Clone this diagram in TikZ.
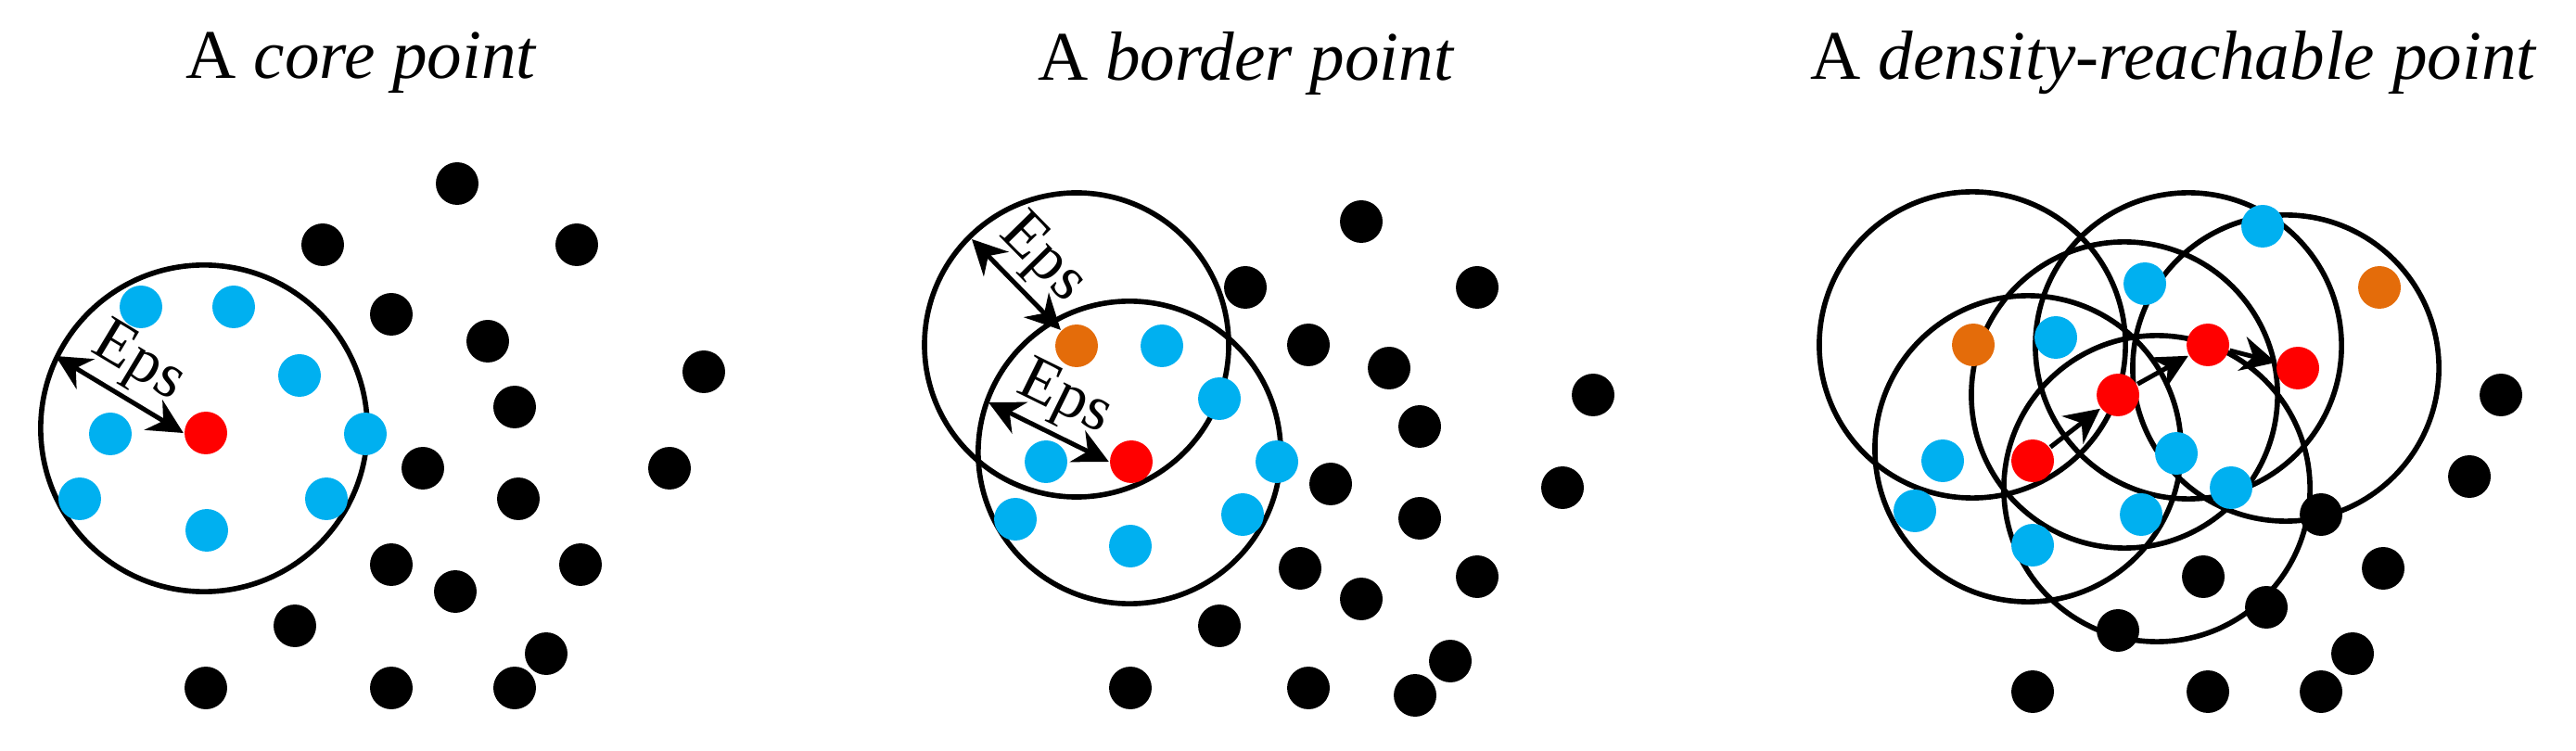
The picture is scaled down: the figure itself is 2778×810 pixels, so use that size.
\documentclass[tikz,border=0pt]{standalone}
\usepackage{fontspec}
\setmainfont{Liberation Serif}
\usetikzlibrary{arrows.meta}
\definecolor{cy}{HTML}{00B0F0}
\definecolor{rd}{HTML}{FF0000}
\definecolor{og}{HTML}{E46C0A}
\begin{document}
\begin{tikzpicture}[x=0.005617cm,y=-0.005617cm,
  dot/.style={circle,inner sep=0pt,minimum size=0.258cm},
  bk/.style={dot,fill=black},
  cd/.style={dot,fill=cy},
  rdd/.style={dot,fill=rd},
  od/.style={dot,fill=og},
  ring/.style={draw,line width=0.9pt},
  eps/.style={line width=0.8pt,{Stealth[length=6pt,width=6pt]}-{Stealth[length=6pt,width=6pt]}},
  reach/.style={line width=0.8pt,-{Stealth[length=6pt,width=6pt]}},
  lbl/.style={font=\fontsize{11}{12}\selectfont,inner sep=1pt},
  ttl/.style={font=\fontsize{12}{14}\selectfont}]
\useasboundingbox (0,0) rectangle (2778,810);
% titles
\node[ttl] (t1) at (390,68) {A \textit{core point}};
\node[ttl] (t2) at (1344,68) {A \textit{border point}};
\node[ttl,anchor=east] (t3) at (2758,68) {A \textit{density-reachable point}};
% ---------- panel 1
\draw[ring] (220,462) circle (0.989cm);
\foreach \p [count=\i] in {(152,331),(252,331),(323,405),(119,468),(394,468),(86,538),(352,538),(223,572)}
  \node[cd] (a\i) at \p {};
\foreach \p [count=\i] in {(493,198),(348,264),(622,264),(422,339),(526,368),(759,401),(555,439),(456,505),(722,505),(559,538),(422,609),(491,638),(626,609),(318,675),(589,705),(222,742),(422,742),(555,742)}
  \node[bk] (ab\i) at \p {};
\node[rdd] (ar) at (222,467) {};
\coordinate (ae) at (60,384);
\draw[eps] (ae) -- (ar.west) node[midway,sloped,above,lbl] {Eps};
% ---------- panel 2
\draw[ring] (1161,372) circle (0.921cm);
\draw[ring] (1218,488) circle (0.916cm);
\foreach \p [count=\i] in {(1253,373),(1315,430),(1128,498),(1377,498),(1095,560),(1340,555),(1219,589)}
  \node[cd] (b\i) at \p {};
\foreach \p [count=\i] in {(1468,239),(1343,310),(1593,310),(1411,372),(1498,397),(1718,426),(1531,460),(1435,522),(1685,526),(1531,559),(1402,613),(1468,646),(1593,622),(1315,675),(1564,713),(1219,742),(1411,742),(1526,750)}
  \node[bk] (bb\i) at \p {};
\node[od] (bo) at (1161,373) {};
\node[rdd] (br) at (1220,498) {};
\coordinate (be1) at (1048,258);
\coordinate (be2) at (1066,434);
\draw[eps] (be1) -- (bo.north west) node[midway,sloped,above,lbl] {Eps};
\draw[eps] (be2) -- (br.west) node[midway,sloped,above,lbl] {Eps};
% ---------- panel 3
\draw[ring] (2127,372) circle (0.927cm);
\draw[ring] (2187,484) circle (0.927cm);
\draw[ring] (2291,426) circle (0.927cm);
\draw[ring] (2326,527) circle (0.927cm);
\draw[ring] (2360,373) circle (0.927cm);
\draw[ring] (2465,397) circle (0.927cm);
\foreach \p [count=\i] in {(2440,244),(2313,306),(2217,364),(2095,497),(2065,551),(2192,588),(2347,489),(2406,526),(2309,555)}
  \node[cd] (c\i) at \p {};
\foreach \p [count=\i] in {(2697,426),(2663,514),(2503,555),(2570,613),(2376,622),(2444,655),(2284,680),(2537,705),(2192,746),(2381,746),(2503,746)}
  \node[bk] (cb\i) at \p {};
\node[od] (co1) at (2128,372) {};
\node[od] (co2) at (2566,310) {};
\node[rdd] (cr1) at (2192,497) {};
\node[rdd] (cr2) at (2284,426) {};
\node[rdd] (cr3) at (2381,372) {};
\node[rdd] (cr4) at (2478,397) {};
\draw[reach] (cr1) -- (cr2);
\draw[reach] (cr2) -- (cr3);
\draw[reach] (cr3) -- (cr4);
\end{tikzpicture}
\end{document}
